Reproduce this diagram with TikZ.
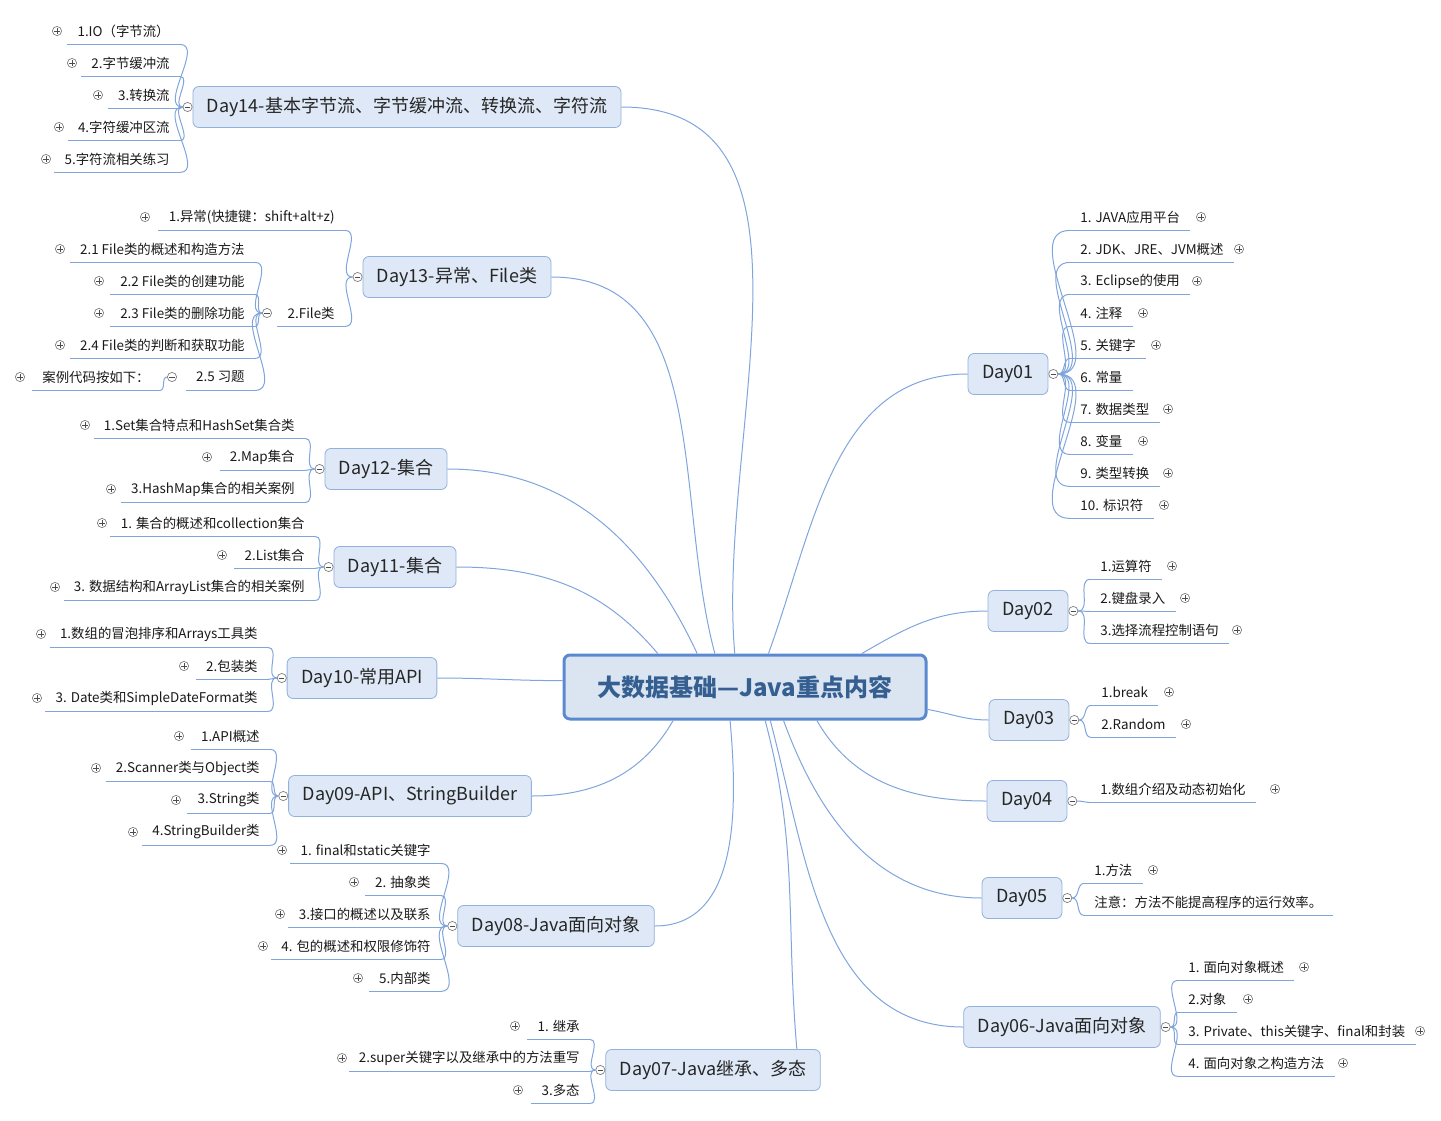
\documentclass[tikz,border=0pt]{standalone}
\usepackage{fontspec}
\setmainfont{Noto Sans CJK SC}
\usetikzlibrary{positioning}
\definecolor{linkcol}{RGB}{127,165,220}
\definecolor{topicfill}{RGB}{222,232,246}
\definecolor{topicline}{RGB}{146,177,221}
\definecolor{rootfill}{RGB}{219,229,242}
\definecolor{rootline}{RGB}{90,137,207}
\definecolor{roottext}{RGB}{53,95,145}
\tikzset{
  link/.style={draw=linkcol,line width=0.5pt},
  topic/.style={draw=topicline,fill=topicfill,rounded corners=3pt,font=\fontsize{9}{11}\selectfont,
    minimum height=20.5pt,inner xsep=7pt,text=black!85},
  leaf/.style={font=\fontsize{6.7}{8}\selectfont,minimum height=13pt,inner xsep=5pt,inner ysep=0pt,text=black!90},
  plus/.style={circle,draw=black!50,fill=white,minimum size=4.6pt,inner sep=0pt,line width=0.35pt,
    path picture={\draw[black!70,line width=0.35pt] (path picture bounding box.center)++(-1.3pt,0) -- ++(2.6pt,0)
      (path picture bounding box.center)++(0,-1.3pt) -- ++(0,2.6pt);}},
  minus/.style={circle,draw=black!50,fill=white,minimum size=4.6pt,inner sep=0pt,line width=0.35pt,
    path picture={\draw[black!70,line width=0.35pt] (path picture bounding box.center)++(-1.3pt,0) -- ++(2.6pt,0);}},
}
% left / right leaves: name, x, y, text, x of the plus sign
\newcommand\lleaf[5]{%
  \node[leaf,anchor=east] (#1) at (#2,#3) {#4};
  \draw[link] (#1.south west) -- (#1.south east);
  \if\relax\detokenize{#5}\relax\else\node[plus] (#1p) at (#5,#3) {};\fi}
\newcommand\rleaf[5]{%
  \node[leaf,anchor=west] (#1) at (#2,#3) {#4};
  \draw[link] (#1.south west) -- (#1.south east);
  \if\relax\detokenize{#5}\relax\else\node[plus] (#1p) at (#5,#3) {};\fi}
\begin{document}
\begin{tikzpicture}[x=0.5pt,y=-0.5pt]
\useasboundingbox (0,0) rectangle (1441,1120);

% root
\node[draw=rootline,fill=rootfill,line width=1.5pt,rounded corners=3pt,minimum width=181pt,minimum height=32pt,
  font=\fontsize{12}{14}\selectfont\bfseries,text=roottext] (c) at (745,687) {大数据基础—Java重点内容};

% topics
\node[topic] (d14) at (407,107) {Day14-基本字节流、字节缓冲流、转换流、字符流};
\node[topic] (d13) at (457,277) {Day13-异常、File类};
\node[topic] (d12) at (386,469) {Day12-集合};
\node[topic] (d11) at (395,567) {Day11-集合};
\node[topic] (d10) at (362,678) {Day10-常用API};
\node[topic] (d09) at (410,796) {Day09-API、StringBuilder};
\node[topic] (d08) at (556,926) {Day08-Java面向对象};
\node[topic] (d07) at (713,1070) {Day07-Java继承、多态};
\node[topic] (d01) at (1008,374) {Day01};
\node[topic] (d02) at (1028,611) {Day02};
\node[topic] (d03) at (1029,720) {Day03};
\node[topic] (d04) at (1027,801) {Day04};
\node[topic] (d05) at (1022,898) {Day05};
\node[topic] (d06) at (1062,1027) {Day06-Java面向对象};

% root links
\draw[link] (c.107) to[out=95,in=0] (d14.east);
\draw[link] (c.132) to[out=105,in=0] (d13.east);
\draw[link] (c.145) to[out=115,in=0] (d12.east);
\draw[link] (c.159) to[out=130,in=0] (d11.east);
\draw[link] (c.178) to[out=180,in=0] (d10.east);
\draw[link] (c.205) to[out=240,in=0] (d09.east);
\draw[link] (c.246) to[out=275,in=0] (d08.east);
\draw[link] (c.301) to[out=285,in=95] (d07.14);
\draw[link] (c.55) to[out=70,in=180] (d01.west);
\draw[link] (c.16) to[out=30,in=180] (d02.west);
\draw[link] (c.353) to[out=-10,in=180] (d03.west);
\draw[link] (c.335) to[out=300,in=180] (d04.west);
\draw[link] (c.319) to[out=290,in=180] (d05.west);
\draw[link] (c.307) to[out=285,in=180] (d06.west);

% hubs
\foreach \d in {14,13,12,11,10,09,08,07} \node[minus,left=0pt of d\d] (h\d) {};
\foreach \d in {01,02,03,04,05,06} \node[minus,right=0pt of d\d] (h\d) {};

% Day14
\lleaf{a1}{180}{31}{1.IO（字节流）}{57}
\lleaf{a2}{180}{63}{2.字节缓冲流}{72}
\lleaf{a3}{180}{95}{3.转换流}{98}
\lleaf{a4}{180}{127}{4.字符缓冲区流}{59}
\lleaf{a5}{180}{159}{5.字符流相关练习}{46}
\foreach \n in {a1,a2,a3,a4,a5} \draw[link] (\n.south east) to[out=0,in=180] (h14.west);

% Day13
\lleaf{b1}{345}{217}{1.异常(快捷键：shift+alt+z)}{145}
\lleaf{b2}{345}{313}{2.File类}{}
\node[minus] (hb2) at (267,313) {};
\lleaf{b21}{255}{249}{2.1 File类的概述和构造方法}{60}
\lleaf{b22}{255}{281}{2.2 File类的创建功能}{99}
\lleaf{b23}{255}{313}{2.3 File类的删除功能}{99}
\lleaf{b24}{255}{345}{2.4 File类的判断和获取功能}{60}
\lleaf{b25}{255}{377}{2.5 习题}{}
\node[minus] (hb25) at (172,377) {};
\lleaf{b251}{160}{377}{案例代码按如下：}{20}
\foreach \n in {b1,b2} \draw[link] (\n.south east) to[out=0,in=180] (h13.west);
\foreach \n in {b21,b22,b23,b24,b25} \draw[link] (\n.south east) to[out=0,in=180] (hb2.west);
\draw[link] (b251.south east) to[out=0,in=180] (hb25.west);

% Day12
\lleaf{e1}{305}{425}{1.Set集合特点和HashSet集合类}{85}
\lleaf{e2}{305}{457}{2.Map集合}{207}
\lleaf{e3}{305}{489}{3.HashMap集合的相关案例}{111}
\foreach \n in {e1,e2,e3} \draw[link] (\n.south east) to[out=0,in=180] (h12.west);

% Day11
\lleaf{f1}{315}{523}{1. 集合的概述和collection集合}{102}
\lleaf{f2}{315}{555}{2.List集合}{222}
\lleaf{f3}{315}{587}{3. 数据结构和ArrayList集合的相关案例}{55}
\foreach \n in {f1,f2,f3} \draw[link] (\n.south east) to[out=0,in=180] (h11.west);

% Day10
\lleaf{g1}{268}{634}{1.数组的冒泡排序和Arrays工具类}{41}
\lleaf{g2}{268}{666}{2.包装类}{184}
\lleaf{g3}{268}{698}{3. Date类和SimpleDateFormat类}{37}
\foreach \n in {g1,g2,g3} \draw[link] (\n.south east) to[out=0,in=180] (h10.west);

% Day09
\lleaf{k1}{270}{736}{1.API概述}{179}
\lleaf{k2}{270}{768}{2.Scanner类与Object类}{96}
\lleaf{k3}{270}{800}{3.String类}{176}
\lleaf{k4}{270}{832}{4.StringBuilder类}{133}
\foreach \n in {k1,k2,k3,k4} \draw[link] (\n.south east) to[out=0,in=180] (h09.west);

% Day08
\lleaf{m1}{441}{850}{1. final和static关键字}{282}
\lleaf{m2}{441}{882}{2. 抽象类}{354}
\lleaf{m3}{441}{914}{3.接口的概述以及联系}{280}
\lleaf{m4}{441}{946}{4. 包的概述和权限修饰符}{263}
\lleaf{m5}{441}{978}{5.内部类}{358}
\foreach \n in {m1,m2,m3,m4,m5} \draw[link] (\n.south east) to[out=0,in=180] (h08.west);

% Day07
\lleaf{n1}{590}{1026}{1. 继承}{515}
\lleaf{n2}{590}{1058}{2.super关键字以及继承中的方法重写}{342}
\lleaf{n3}{590}{1090}{3.多态}{518}
\foreach \n in {n1,n2,n3} \draw[link] (\n.south east) to[out=0,in=180] (h07.west);

% Day01
\rleaf{r1}{1070}{217}{1. JAVA应用平台}{1201}
\rleaf{r2}{1070}{249}{2. JDK、JRE、JVM概述}{1239}
\rleaf{r3}{1070}{281}{3. Eclipse的使用}{1197}
\rleaf{r4}{1070}{313}{4. 注释}{1143}
\rleaf{r5}{1070}{345}{5. 关键字}{1156}
\rleaf{r6}{1070}{377}{6. 常量}{}
\rleaf{r7}{1070}{409}{7. 数据类型}{1168}
\rleaf{r8}{1070}{441}{8. 变量}{1143}
\rleaf{r9}{1070}{473}{9. 类型转换}{1168}
\rleaf{r10}{1070}{505}{10. 标识符}{1164}
\foreach \n in {r1,r2,r3,r4,r5,r6,r7,r8,r9,r10} \draw[link] (h01.east) to[out=0,in=180] (\n.south west);

% Day02
\rleaf{s1}{1090}{566}{1.运算符}{1172}
\rleaf{s2}{1090}{598}{2.键盘录入}{1185}
\rleaf{s3}{1090}{630}{3.选择流程控制语句}{1237}
\foreach \n in {s1,s2,s3} \draw[link] (h02.east) to[out=0,in=180] (\n.south west);

% Day03
\rleaf{t1}{1091}{692}{1.break}{1169}
\rleaf{t2}{1091}{724}{2.Random}{1186}
\foreach \n in {t1,t2} \draw[link] (h03.east) to[out=0,in=180] (\n.south west);

% Day04
\rleaf{u1}{1090}{789}{1.数组介绍及动态初始化}{1275}
\draw[link] (h04.east) to[out=0,in=180] (u1.south west);

% Day05
\rleaf{v1}{1084}{870}{1.方法}{1153}
\rleaf{v2}{1084}{902}{注意：方法不能提高程序的运行效率。}{}
\foreach \n in {v1,v2} \draw[link] (h05.east) to[out=0,in=180] (\n.south west);

% Day06
\rleaf{w1}{1178}{967}{1. 面向对象概述}{1304}
\rleaf{w2}{1178}{999}{2.对象}{1248}
\rleaf{w3}{1178}{1031}{3. Private、this关键字、final和封装}{1420}
\rleaf{w4}{1178}{1063}{4. 面向对象之构造方法}{1343}
\foreach \n in {w1,w2,w3,w4} \draw[link] (h06.east) to[out=0,in=180] (\n.south west);
\end{tikzpicture}
\end{document}
